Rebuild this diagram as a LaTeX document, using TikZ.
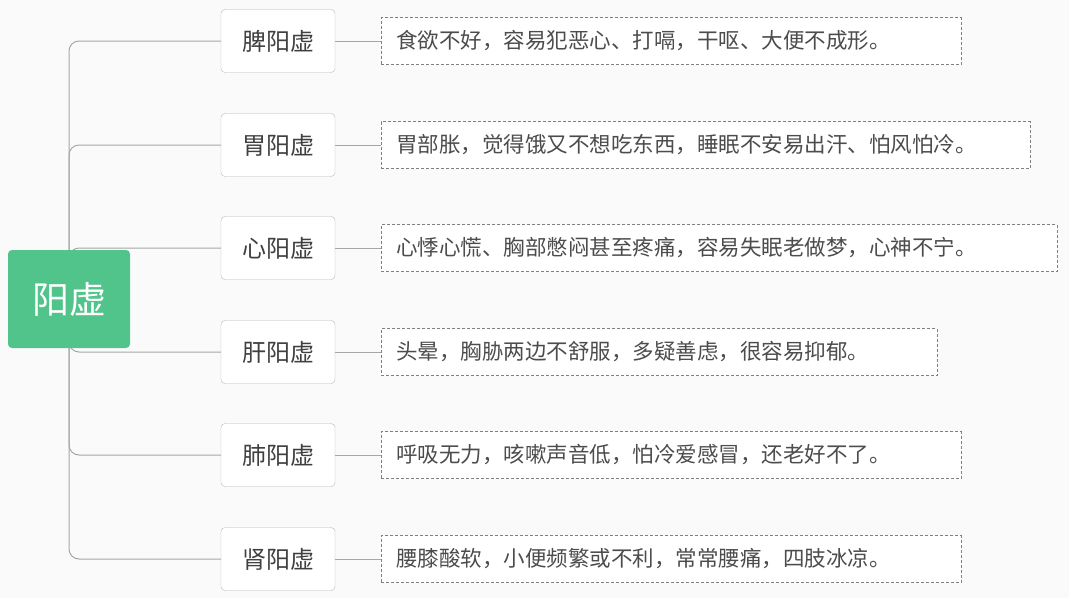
\documentclass[tikz,border=0pt]{standalone}
\usepackage{fontspec}
\setmainfont{Noto Sans CJK SC}
\definecolor{rootgreen}{HTML}{50C48A}
\begin{document}
\begin{tikzpicture}[x=1pt,y=-1pt,
  child/.style={draw=black!28,fill=white,rounded corners=4,minimum width=114,minimum height=63,inner sep=0,text=black!75,font=\fontsize{24}{28}\selectfont},
  detail/.style={draw=black!50,dash pattern=on 3pt off 2pt,fill=white,anchor=west,minimum height=47,inner xsep=0,text=black!70,font=\fontsize{21.5}{26}\selectfont},
  link/.style={draw=black!35,line width=1pt}]
\fill[black!2] (0,0) rectangle (1069,598);
\useasboundingbox (0,0) rectangle (1069,598);
\coordinate (t) at (69,300);
\foreach \i/\y/\c/\d/\w in {
 1/41/脾阳虚/食欲不好，容易犯恶心、打嗝，干呕、大便不成形。/580,
 2/145/胃阳虚/胃部胀，觉得饿又不想吃东西，睡眠不安易出汗、怕风怕冷。/649,
 3/248/心阳虚/心悸心慌、胸部憋闷甚至疼痛，容易失眠老做梦，心神不宁。/676,
 4/352/肝阳虚/头晕，胸胁两边不舒服，多疑善虑，很容易抑郁。/556,
 5/455/肺阳虚/呼吸无力，咳嗽声音低，怕冷爱感冒，还老好不了。/580,
 6/559/肾阳虚/腰膝酸软，小便频繁或不利，常常腰痛，四肢冰凉。/580}{
  \node[child] (c\i) at (278,\y) {\c};
  \node[detail,minimum width=\w,align=left,text width=\w-30] (d\i) at (381,\y) {\d};
  \draw[link] (c\i.east) -- (d\i.west);
  \draw[link,rounded corners=10] (c\i.west) -| (t);
}
\node[fill=rootgreen,rounded corners=4,minimum width=122,minimum height=98,text=white,font=\fontsize{37}{42}\selectfont] (root) at (69,299) {阳虚};
\end{tikzpicture}
\end{document}
